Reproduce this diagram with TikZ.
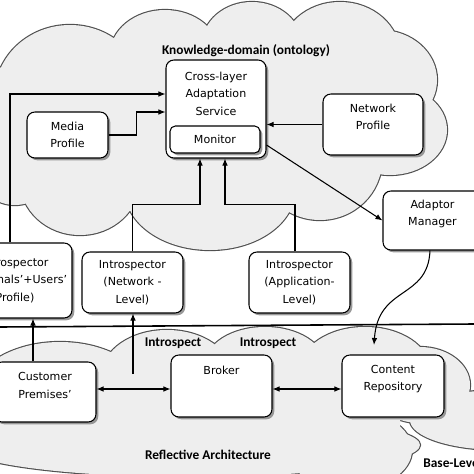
\documentclass[tikz,border=0pt]{standalone}
\usepackage{fontspec}
\setmainfont{DejaVu Sans}
\newfontfamily\titrefont{Carlito}
\usetikzlibrary{positioning, arrows.meta, calc, shadows}
\definecolor{nuagefond}{RGB}{238,238,238}
\definecolor{nuagetrait}{RGB}{80,80,80}
% nuages : centre x / centre y / rayon x / rayon y (en pixels)
\newcommand\nuagehaut{70/95/75/70, 165/55/55/45, 252/45/50/43, 340/55/60/53, 380/80/57/50, 390/130/57/45, 320/160/62/60, 210/190/85/60, 80/180/60/55, 20/120/40/60, 15/175/35/30}
\newcommand\nuagebas{60/400/90/58, 167/375/65/45, 265/365/60/38, 365/370/65/43, 420/385/50/38, 500/420/90/30, 350/450/62/40, 190/445/230/32}

\begin{document}
\begin{tikzpicture}[x=0.02cm, y=-0.02cm,
    boite/.style={draw, rounded corners=4.5pt, fill=white, line width=0.6pt, align=center, inner sep=0pt,
        font=\fontsize{6.3}{9.9}\selectfont,
        drop shadow={shadow xshift=1.3pt, shadow yshift=-1.3pt, fill=gray, opacity=0.8}},
    texte/.style={align=center, inner sep=0pt, font=\fontsize{6.3}{9.9}\selectfont},
    titre/.style={inner sep=0pt, font=\titrefont\bfseries\fontsize{7.6}{9}\selectfont},
    fleche/.style={-{Latex[length=4pt, width=3.2pt]}, line width=0.6pt},
    fleches/.style={{Latex[length=4pt, width=3.2pt]}-{Latex[length=4pt, width=3.2pt]}, line width=0.6pt}]
    \useasboundingbox (0,0) rectangle (474,474);
    \begin{scope}
    \clip (0,0) rectangle (474,474);

    % === NUAGES ===
    \foreach \cx/\cy/\rx/\ry in \nuagehaut
        \draw[nuagetrait, line width=1.3pt] (\cx,\cy) ellipse [x radius=\rx*0.02cm, y radius=\ry*0.02cm];
    \foreach \cx/\cy/\rx/\ry in \nuagebas
        \draw[nuagetrait, line width=1.3pt] (\cx,\cy) ellipse [x radius=\rx*0.02cm, y radius=\ry*0.02cm];
    \foreach \cx/\cy/\rx/\ry in \nuagehaut
        \fill[nuagefond] (\cx,\cy) ellipse [x radius=\rx*0.02cm, y radius=\ry*0.02cm];
    \foreach \cx/\cy/\rx/\ry in \nuagebas
        \fill[nuagefond] (\cx,\cy) ellipse [x radius=\rx*0.02cm, y radius=\ry*0.02cm];
    \fill[nuagefond] (40,60) -- (380,60) -- (380,150) -- (300,200) -- (100,200) -- (40,170) -- cycle;
    \fill[nuagefond] (10,380) -- (400,380) -- (400,440) -- (300,460) -- (10,440) -- cycle;

    % Separation meta / base
    \draw[line width=0.9pt] (0,327) -- (474,324);

    % === NIVEAU META ===
    \node[titre] (kd) at (246,51) {Knowledge-domain (ontology)};

    % Service d'adaptation
    \node[boite, minimum width=2cm, minimum height=1.96cm] (cla) at (216,109) {};
    \node[texte] (cla-t) at (216,93.5) {Cross-layer\\Adaptation\\Service};
    \node[boite, rounded corners=3pt, minimum width=1.8cm, minimum height=0.54cm] (monitor) at (215,139.5) {Monitor};

    % Profils
    \node[boite, minimum width=1.62cm, minimum height=0.92cm] (media) at (67.5,135) {Media\\Profile};
    \node[boite, minimum width=2cm, minimum height=1.22cm] (netprof) at (373,124.5) {};
    \node[texte] (netprof-t) at (373,117) {Network\\Profile};
    \node[boite, minimum width=1.98cm, minimum height=1.18cm] (adaptor) at (432.5,220.5) {};
    \node[texte] (adaptor-t) at (432.5,214) {Adaptor\\Manager};

    % Introspecteurs
    \node[boite, minimum width=2.28cm, minimum height=1.5cm] (introterm) at (15,280.5) {Introspector\\(Terminals’+Users’\\Profile)};
    \node[boite, minimum width=2.02cm, minimum height=1.22cm] (intronet) at (132.5,282.5) {Introspector\\(Network -\\Level)};
    \node[boite, minimum width=2.02cm, minimum height=1.22cm] (introapp) at (299.5,282.5) {Introspector\\(Application-\\Level)};

    % === NIVEAU DE BASE ===
    \node[titre] (intro1) at (173,343) {Introspect};
    \node[titre] (intro2) at (268,343) {Introspect};
    \node[boite, minimum width=2.04cm, minimum height=1.2cm] (customer) at (45,392) {};
    \node[texte] (customer-t) at (45,385.5) {Customer\\Premises’};
    \node[boite, minimum width=2.02cm, minimum height=1.24cm] (broker) at (221.5,386) {};
    \node[texte] (broker-t) at (221.5,370) {Broker};
    \node[boite, minimum width=2.04cm, minimum height=1.24cm] (content) at (393,386) {};
    \node[texte] (content-t) at (393,379) {Content\\Repository};
    \node[titre] (refl) at (208,455) {Reflective Architecture};
    \node[titre, anchor=west] (base) at (423,463) {Base-Level};

    % Fleches vers le service
    \draw[fleche] ([xshift=-0.1cm]introterm.north) |- ([yshift=0.3cm]cla.west);
    \draw[fleche] (media.east) -- ++(28,0) |- ([yshift=-0.06cm]cla.west);
    \draw[fleche] (netprof.west) -- (netprof.west -| cla.east);
    \draw[fleche] ([yshift=-0.72cm]cla.east) -- (adaptor.west);
    \draw[fleche] (intronet.north) -- ++(0,-47) -| ([xshift=-0.32cm]cla.south);
    \draw[fleche] ([xshift=-0.09cm]introapp.north) -- ++(0,-47) -| ([xshift=0.18cm]cla.south);

    % Fleches du niveau de base
    \coordinate (custup) at ([xshift=-0.24cm]customer.north);
    \draw[fleche] (custup) -- (custup |- introterm.south);
    \coordinate (bus) at (133,389);
    \coordinate (busup) at (133,374);
    \draw[fleches] (customer.east |- bus) -- (broker.west |- bus);
    \draw[fleche] (busup) -- (busup |- intronet.south);
    \draw[fleches] (broker.east |- bus) -- (content.west |- bus);
    \coordinate (repotip) at (374,345);
    \draw[fleche] ([xshift=-0.05cm]adaptor.south) .. controls (428,300) and (378,285) .. (repotip);
    \end{scope}
\end{tikzpicture}
\end{document}
